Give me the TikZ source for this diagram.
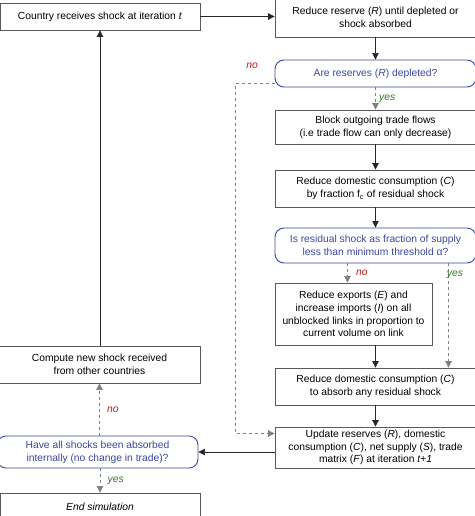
\documentclass[tikz,border=0pt]{standalone}
\usepackage{fontspec}
\setmainfont{Liberation Sans}
\usetikzlibrary{arrows.meta}
\definecolor{decblue}{RGB}{58,72,160}
\definecolor{notred}{RGB}{190,20,20}
\definecolor{yesgreen}{RGB}{50,120,40}
\begin{document}
\begin{tikzpicture}[x=1pt,y=-1pt,
    box/.style={draw=black!65,line width=0.8pt,fill=white,align=center,inner sep=2pt,
        font=\fontsize{10.3}{12.8}\selectfont},
    decision/.style={box,draw=decblue,text=decblue,rounded corners=9pt,line width=0.9pt},
    flow/.style={black!85,line width=0.7pt,-{Triangle[length=6.5pt,width=6.5pt]}},
    dflow/.style={flow,black!50,dashed},
    nolab/.style={text=notred,font=\fontsize{10.3}{12}\selectfont\itshape},
    yeslab/.style={text=yesgreen,font=\fontsize{10.3}{12}\selectfont\itshape}]
    \useasboundingbox (0,0) rectangle (474,516);

    % Left column
    \node (country) at (100,16.5) [box,minimum width=200pt,minimum height=27pt] {Country receives shock at iteration \textit{t}};
    \node (compute) at (99.5,364.5) [box,minimum width=201pt,minimum height=37pt] {Compute new shock received\\from other countries};
    \node (allabs) at (97.5,452) [decision,minimum width=201pt,minimum height=32pt] {Have all shocks been absorbed\\internally (no change in trade)?};
    \node (endsim) at (100,507) [box,minimum width=200pt,minimum height=28pt] {\textit{End simulation}};

    % Right column
    \node (reserve) at (375.5,17) [box,minimum width=201pt,minimum height=40pt] {Reduce reserve (\textit{R}) until depleted or\\shock absorbed};
    \node (depleted) at (375.5,73.5) [decision,minimum width=201pt,minimum height=27pt] {Are reserves (\textit{R}) depleted?};
    \node (block) at (375.5,127) [box,minimum width=201pt,minimum height=34pt] {Block outgoing trade flows\\(i.e trade flow can only decrease)};
    \node (consfrac) at (375.5,188.5) [box,minimum width=201pt,minimum height=37pt] {Reduce domestic consumption (\textit{C})\\by fraction f\textsubscript{c} of residual shock};
    \node (thresh) at (375.5,245.5) [decision,minimum width=201pt,minimum height=35pt] {Is residual shock as fraction of supply\\less than minimum threshold α?};
    \node (exports) at (353.5,314) [box,minimum width=157pt,minimum height=62pt] {Reduce exports (\textit{E}) and\\increase imports (\textit{I}) on all\\unblocked links in proportion to\\current volume on link};
    \node (consrest) at (375.5,386.5) [box,minimum width=201pt,minimum height=37pt] {Reduce domestic consumption (\textit{C})\\to absorb any residual shock};
    \node (update) at (375.5,447.5) [box,minimum width=201pt,minimum height=41pt] {Update reserves (\textit{R}), domestic\\consumption (\textit{C}), net supply (\textit{S}), trade\\matrix (\textit{F}) at iteration \textit{t+1}};

    % Solid connectors
    \draw[flow] (country.east) -- (country.east -| reserve.west);
    \draw[flow] (reserve.south) -- (depleted.north);
    \draw[flow] (block.south) -- (consfrac.north);
    \draw[flow] (consfrac.south) -- (thresh.north);
    \draw[flow] (exports.south -| consrest.north) -- (consrest.north);
    \draw[flow] (consrest.south) -- (update.north);
    \draw[flow] (allabs.east -| update.west) -- (allabs.east);
    \draw[flow] (compute.north -| country.south) -- (country.south);

    % Dashed decision branches
    \draw[dflow] (depleted.south) -- (block.north) node[midway,right,yeslab] {yes};
    \draw[dflow] ([yshift=-10pt]depleted.west) -- ++(-39,0) |- ([yshift=14pt]update.west);
    \node at (252,66) [nolab] {no};
    \draw[dflow] ([xshift=-28pt]thresh.south) -- ([xshift=-28pt]thresh.south |- exports.north) node[midway,right=5pt,nolab] {no};
    \draw[dflow] ([xshift=73pt]thresh.south) -- ([xshift=73pt]consrest.north);
    \node at (455,275) [yeslab] {yes};
    \draw[dflow] (allabs.north -| compute.south) -- (compute.south) node[midway,right=4pt,nolab] {no};
    \draw[dflow] (allabs.south -| endsim.north) -- (endsim.north) node[midway,right=4pt,yeslab] {yes};

\end{tikzpicture}
\end{document}
